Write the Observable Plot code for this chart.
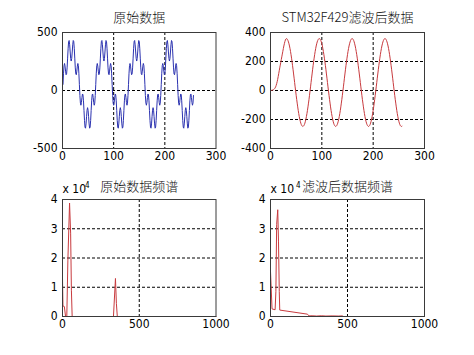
<!DOCTYPE html>
<html>
<head>
<meta charset="utf-8">
<script src="https://cdn.jsdelivr.net/npm/d3@7"></script>
<script src="https://cdn.jsdelivr.net/npm/@observablehq/plot@0.6"></script>
<style>
  html, body { margin: 0; padding: 0; background: #fff; }
  #root { position: relative; width: 474px; height: 355px; background: #fff; overflow: hidden; }
  #root > svg { position: absolute; }
</style>
</head>
<body>
<div id="root"></div>
<script>
// ---- data ----
const titles = ["原始数据", "STM32F429滤波后数据", "原始数据频谱", "滤波后数据频谱"];

// original signal, samples 1..256
const originalData = [
  53,149,215,233,210,167,136,143,195,279,364,422,431,394,332,276,254,276,332,394,431,422,364,279,195,143,136,167,210,233,215,149,53,-43,-109,-127,-104,-61,-30,-37,-89,-173,-258,-316,-325,-288,-226,-170,-148,-170,-226,-288,-325,-316,-258,-173,-89,-37,-30,-61,-104,-127,-109,-43,
  53,149,215,233,210,167,136,143,195,279,364,422,431,394,332,276,254,276,332,394,431,422,364,279,195,143,136,167,210,233,215,149,53,-43,-109,-127,-104,-61,-30,-37,-89,-173,-258,-316,-325,-288,-226,-170,-148,-170,-226,-288,-325,-316,-258,-173,-89,-37,-30,-61,-104,-127,-109,-43,
  53,149,215,233,210,167,136,143,195,279,364,422,431,394,332,276,254,276,332,394,431,422,364,279,195,143,136,167,210,233,215,149,53,-43,-109,-127,-104,-61,-30,-37,-89,-173,-258,-316,-325,-288,-226,-170,-148,-170,-226,-288,-325,-316,-258,-173,-89,-37,-30,-61,-104,-127,-109,-43,
  53,149,215,233,210,167,136,143,195,279,364,422,431,394,332,276,254,276,332,394,431,422,364,279,195,143,136,167,210,233,215,149,53,-43,-109,-127,-104,-61,-30,-37,-89,-173,-258,-316,-325,-288,-226,-170,-148,-170,-226,-288,-325,-316,-258,-173,-89,-37,-30,-61,-104,-127,-109,-43
];

// filtered signal, samples 1..256
const filteredData = [
  0,1,2,3,4,6,9,13,18,25,35,47,61,77,96,116,136,156,175,194,213,232,251,270,289,307,323,337,348,355,
  358,357,352,345,335,322,307,289,269,247,223,198,171,143,114,85,55,25,-4,-33,-61,-87,-113,-137,-159,-179,-197,-212,-225,-235,-242,-246,-248,-246,-242,-235,-225,-212,-197,-179,-159,-137,-113,-87,-61,-33,-4,25,55,85,114,143,171,198,223,247,269,289,307,322,335,345,352,357,
  358,357,352,345,335,322,307,289,269,247,223,198,171,143,114,85,55,25,-4,-33,-61,-87,-113,-137,-159,-179,-197,-212,-225,-235,-242,-246,-248,-246,-242,-235,-225,-212,-197,-179,-159,-137,-113,-87,-61,-33,-4,25,55,85,114,143,171,198,223,247,269,289,307,322,335,345,352,357,
  358,357,352,345,335,322,307,289,269,247,223,198,171,143,114,85,55,25,-4,-33,-61,-87,-113,-137,-159,-179,-197,-212,-225,-235,-242,-246,-248,-246,-242,-235,-225,-212,-197,-179,-159,-137,-113,-87,-61,-33,-4,25,55,85,114,143,171,198,223,247,269,289,307,322,335,345,352,357,
  358,357,352,345,335,322,307,289,269,247,223,198,171,143,114,85,55,25,-4,-33,-61,-87,-113,-137,-159,-179,-197,-212,-225,-235,-242,-246,-248,-246
];

// spectrum of original data: frequency / magnitude key points
const origFreq = [0, 3, 12, 20, 28, 35, 46, 53, 58, 63, 332, 345, 351, 357, 1000];
const origMag  = [13200, 3600, 3400, 0, 0, 19000, 38800, 28500, 9000, 0, 0, 13000, 4500, 0, 0];

// spectrum of filtered data
const filtFreq = [0, 10, 30, 35, 40, 47, 52, 57, 60, 240, 250, 270, 300, 330, 360, 400, 440, 466, 475, 1000];
const filtMag  = [15500, 2600, 2300, 8500, 31500, 36500, 25500, 8500, 2200, 800, 200, 250, 150, 250, 150, 200, 150, 200, 0, 0];

// ticks
const timeTicks = [0, 100, 200, 300];
const origYTicks = [-500, 0, 500];
const filtYTicks = [-400, -200, 0, 200, 400];
const freqTicks = [0, 500, 1000];
const specYTicks = [0, 10000, 20000, 30000, 40000];

// ---- drawing ----
const root = document.getElementById("root");
const blue = "#2b32b0";
const red = "#c83a3e";
const latin = "'Liberation Sans Narrow', 'Arial Narrow', 'DejaVu Sans Condensed', 'Liberation Sans', Arial, sans-serif";
const cjk = "'Noto Sans CJK SC', sans-serif";

function panel(o) {
  const marks = [
    Plot.ruleX(o.gridX, {stroke: "#000", strokeDasharray: "3,2", strokeWidth: 1}),
    Plot.ruleY(o.gridY, {stroke: "#000", strokeDasharray: "3,2", strokeWidth: 1}),
    Plot.line(o.rows, {x: "x", y: "y", stroke: o.color, strokeWidth: 1}),
    Plot.frame({stroke: "#3a3a3a", strokeWidth: 1}),
    Plot.axisX({ticks: o.xTicks, tickSize: 0, tickPadding: 3, tickFormat: d => String(d), fontSize: 12, label: null}),
    Plot.axisY({ticks: o.yTicks, tickSize: 0, tickPadding: 5, tickFormat: o.yFormat, fontSize: 12, label: null}),
    Plot.text([o.title], {text: d => d, frameAnchor: "top", dy: o.titleDy, lineAnchor: "middle", fontFamily: cjk, fontSize: 13, fontWeight: 300, fill: "#111"})
  ];
  if (o.exp) {
    marks.push(Plot.text(["x 10"], {text: d => d, frameAnchor: "top-left", textAnchor: "start", lineAnchor: "middle", dx: 0, dy: -10, fontSize: 12, fill: "#000"}));
    marks.push(Plot.text(["4"], {text: d => d, frameAnchor: "top-left", textAnchor: "start", lineAnchor: "middle", dx: o.expDx, dy: -14.5, fontSize: 8, fill: "#000"}));
  }
  const svg = Plot.plot({
    width: o.w, height: o.h,
    marginLeft: o.ml, marginRight: o.mr, marginTop: o.mt, marginBottom: o.mb,
    x: {domain: o.xDomain},
    y: {domain: o.yDomain},
    style: {fontFamily: latin, fontSize: "12px", color: "#000", background: "transparent", overflow: "visible"},
    marks
  });
  svg.style.left = o.left + "px";
  svg.style.top = o.top + "px";
  root.appendChild(svg);
}

const origRows = originalData.map((v, i) => ({x: i + 1, y: v}));
const filtRows = filteredData.map((v, i) => ({x: i + 1, y: v}));
const origSpecRows = origFreq.map((f, i) => ({x: f, y: origMag[i]}));
const filtSpecRows = filtFreq.map((f, i) => ({x: f, y: filtMag[i]}));

const topRow = {top: 0, h: 170, mt: 32, mb: 22};
const botRow = {top: 170, h: 185, mt: 29, mb: 39};
const leftCol = {left: 0, w: 237, ml: 62, mr: 21.5};
const rightCol = {left: 237, w: 237, ml: 33, mr: 50};

panel({...topRow, ...leftCol, rows: origRows, color: blue, xDomain: [0, 300], yDomain: [-500, 500],
  xTicks: timeTicks, yTicks: origYTicks, yFormat: d => String(d), gridX: [100, 200], gridY: [0],
  title: titles[0], titleDy: -15});
panel({...topRow, ...rightCol, rows: filtRows, color: red, xDomain: [0, 300], yDomain: [-400, 400],
  xTicks: timeTicks, yTicks: filtYTicks, yFormat: d => String(d), gridX: [100, 200], gridY: [-200, 0, 200],
  title: titles[1], titleDy: -15});
panel({...botRow, ...leftCol, rows: origSpecRows, color: red, xDomain: [0, 1000], yDomain: [0, 40000],
  xTicks: freqTicks, yTicks: specYTicks, yFormat: d => String(d / 10000), gridX: [500], gridY: [10000, 20000, 30000],
  title: titles[2], titleDy: -13, exp: true, expDx: 22.5});
panel({...botRow, ...rightCol, rows: filtSpecRows, color: red, xDomain: [0, 1000], yDomain: [0, 40000],
  xTicks: freqTicks, yTicks: specYTicks, yFormat: d => String(d / 10000), gridX: [500], gridY: [10000, 20000, 30000],
  title: titles[3], titleDy: -13, exp: true, expDx: 25.5});
</script>
</body>
</html>
